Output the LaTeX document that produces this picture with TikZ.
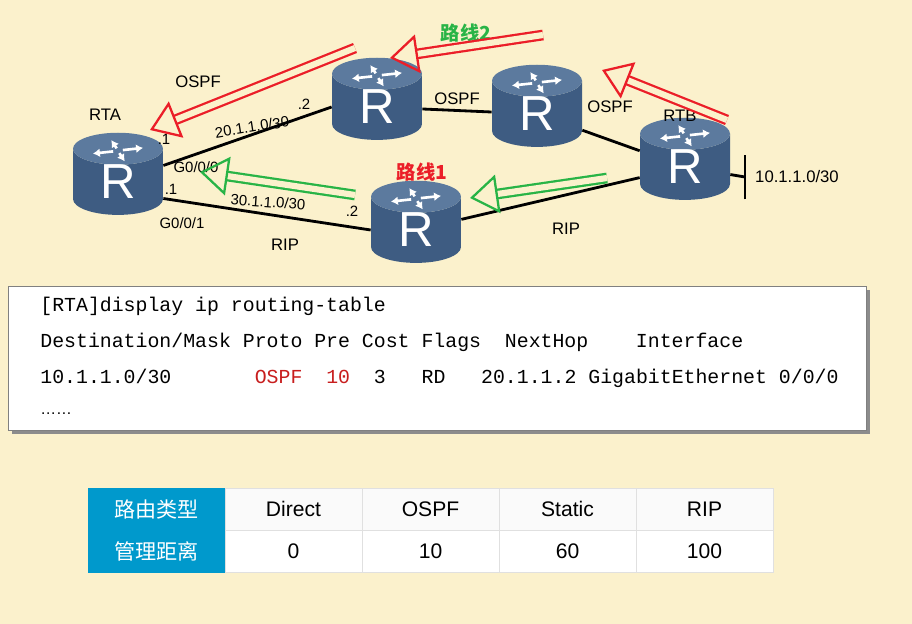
\documentclass[tikz,border=0pt]{standalone}
\usepackage{fontspec}
\setmainfont{Liberation Sans}
\newfontfamily\cjk{Noto Sans CJK SC}
\setmonofont{Liberation Mono}
\usetikzlibrary{shapes.geometric, arrows.meta}
\definecolor{paper}{RGB}{251,241,204}
\definecolor{rbody}{RGB}{62,92,130}
\definecolor{rtop}{RGB}{92,122,158}
\definecolor{cellblue}{RGB}{0,153,204}
\definecolor{hdrgray}{RGB}{250,250,250}
\definecolor{ospfred}{RGB}{200,30,30}
\definecolor{pathred}{RGB}{235,30,40}
\definecolor{pathgreen}{RGB}{40,180,70}

\begin{document}
\begin{tikzpicture}[x=0.02cm, y=-0.02cm, font=\fontsize{9.5}{11}\selectfont,
  router/.style={cylinder, shape border rotate=90, aspect=0.9,
    minimum width=1.8cm, minimum height=1.6cm, draw=none,
    cylinder uses custom fill, cylinder body fill=rbody, cylinder end fill=rtop,
    text=white, font=\fontsize{28}{28}\selectfont, inner sep=0pt,
    path picture={
      \foreach \ang in {15,105,195,285}
        \draw[white, line width=1.5pt, -{Latex[length=4pt,width=5pt]}]
          ([yshift=-0.36cm]path picture bounding box.north) ++(\ang:0.1cm and 0.05cm)
          -- ++(\ang:0.42cm and 0.17cm);
    }},
  link/.style={line width=1.6pt},
  redpath/.style={draw=pathred, double=paper, double distance=3.5pt, line width=1.3pt,
    -{Triangle[open, length=16pt, width=22pt]}},
  greenpath/.style={draw=pathgreen, double=paper, double distance=3.5pt, line width=1.3pt,
    -{Triangle[open, length=16pt, width=22pt]}},
  lbl/.style={inner sep=1pt},
  small/.style={lbl, font=\fontsize{8.5}{10}\selectfont},
  cell/.style={draw=black!12, minimum width=2.74cm, minimum height=0.84cm,
    font=\fontsize{12}{14}\selectfont},
  bluecell/.style={cell, fill=cellblue, draw=cellblue, text=white, font=\cjk\fontsize{12}{14}\selectfont}
]
% background
\fill[paper] (0,0) rectangle (912,624);

%------------- routers
\node[router] (RTA) at (118,182) {R};
\node[router] (RU) at (377,107) {R};
\node[router] (RO) at (537,114) {R};
\node[router] (RTB) at (685,167) {R};
\node[router] (RD) at (416,230) {R};

%------------- links
\coordinate (stub) at (745,177);
\draw[link] (RTA.20) -- (RU.west);
\draw[link] (RTA.-20) -- (RD.west);
\draw[link] (RU) -- (RO);
\draw[link] (RO) -- (RTB);
\draw[link] (RD) -- (RTB);
\draw[link] (RTB) -- (stub);
\draw[link] ([yshift=-0.45cm]stub) -- ([yshift=0.45cm]stub);

%------------- labels
\node[lbl] (t_net) at (797,177) {10.1.1.0/30};
\node[lbl] (t_rta) at (105,115) {RTA};
\node[lbl] (t_rtb) at (680,116) {RTB};
\node[lbl] (t_ospfa) at (198,82) {OSPF};
\node[lbl] (t_ospfb) at (457,99) {OSPF};
\node[lbl] (t_ospfc) at (610,107) {OSPF};
\node[lbl] (t_ripa) at (285,245) {RIP};
\node[lbl] (t_ripb) at (566,229) {RIP};
\node[small] (t_a1) at (164,139) {.1};
\node[small, rotate=9] (t_n20) at (252,127) {20.1.1.0/30};
\node[small] (t_u2) at (304,104) {.2};
\node[small] (t_g0) at (196,167) {G0/0/0};
\node[small] (t_a1b) at (171,189) {.1};
\node[small, rotate=-4] (t_n30) at (268,202) {30.1.1.0/30};
\node[small] (t_d2) at (352,211) {.2};
\node[small] (t_g1) at (182,223) {G0/0/1};
\node[lbl, text=pathgreen, font=\cjk\bfseries\fontsize{11}{12}\selectfont] (t_p2) at (466,33) {路线2};
\node[lbl, text=pathred, font=\cjk\bfseries\fontsize{11}{12}\selectfont] (t_p1) at (422,172) {路线1};

%------------- path arrows
\coordinate (r1s) at (355,48);  \coordinate (r1e) at (150,130);
\coordinate (r2s) at (543,35);  \coordinate (r2e) at (390,58);
\coordinate (r3s) at (727,120); \coordinate (r3e) at (602,70);
\coordinate (g1s) at (355,195); \coordinate (g1e) at (200,172);
\coordinate (g2s) at (607,178); \coordinate (g2e) at (470,198);
\draw[redpath] (r1s) -- (r1e);
\draw[redpath] (r2s) -- (r2e);
\draw[redpath] (r3s) -- (r3e);
\draw[greenpath] (g1s) -- (g1e);
\draw[greenpath] (g2s) -- (g2e);

%------------- routing table box
\fill[black!45] (12,290) rectangle (870,434);
\node[draw=black!50, fill=white, minimum width=17.16cm, minimum height=2.88cm, anchor=north west] (box) at (8,286) {};
\begin{scope}[font=\ttfamily\fontsize{11.3}{13}\selectfont, every node/.style={anchor=west, inner sep=0pt}]
  \node (l1) at (40,306) {[RTA]display ip routing-table};
  \node (l2) at (40,342) {Destination/Mask Proto Pre Cost Flags~~NextHop~~~~Interface};
  \node (l3) at (40,378) {10.1.1.0/30~~~~~~~\textcolor{ospfred}{OSPF~~10}~~3~~~RD~~~20.1.1.2 GigabitEthernet 0/0/0};
  \node (l4) at (40,414) {\rmfamily\small ……};
\end{scope}

%------------- preference table
\node[bluecell] (c11) at (156.5,509) {路由类型};
\node[cell, fill=hdrgray] (c12) at (293.5,509) {Direct};
\node[cell, fill=hdrgray] (c13) at (430.5,509) {OSPF};
\node[cell, fill=hdrgray] (c14) at (567.5,509) {Static};
\node[cell, fill=hdrgray] (c15) at (704.5,509) {RIP};
\node[bluecell] (c21) at (156.5,551) {管理距离};
\node[cell, fill=white] (c22) at (293.5,551) {0};
\node[cell, fill=white] (c23) at (430.5,551) {10};
\node[cell, fill=white] (c24) at (567.5,551) {60};
\node[cell, fill=white] (c25) at (704.5,551) {100};
\end{tikzpicture}
\end{document}
